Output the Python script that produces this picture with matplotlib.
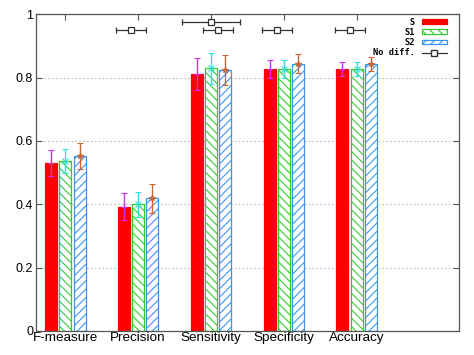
import numpy as np
import matplotlib
matplotlib.use("Agg")
import matplotlib.pyplot as plt
from matplotlib.patches import Patch
from matplotlib.lines import Line2D

# metrics on the x axis
categories = ["F-measure", "Precision", "Sensitivity", "Specificity", "Accuracy"]
series_names = ["S", "S1", "S2"]

# mean values per series
s_vals = [0.530, 0.392, 0.812, 0.827, 0.827]
s1_vals = [0.536, 0.400, 0.829, 0.827, 0.827]
s2_vals = [0.552, 0.418, 0.823, 0.844, 0.842]

# error half-widths
s_err = [0.040, 0.042, 0.050, 0.028, 0.022]
s1_err = [0.038, 0.040, 0.050, 0.028, 0.023]
s2_err = [0.040, 0.047, 0.047, 0.030, 0.022]

# "no difference" markers: group, pair of series, height
nodiff_group = [1, 2, 2, 3, 4]
nodiff_pair = [(0, 1), (0, 2), (1, 2), (0, 1), (0, 1)]
nodiff_y = [0.95, 0.975, 0.95, 0.95, 0.95]

yticks = [0, 0.2, 0.4, 0.6, 0.8, 1]
ytick_labels = ["0", "0.2", "0.4", "0.6", "0.8", "1"]

plt.rcParams["font.family"] = ["Liberation Sans", "DejaVu Sans"]
plt.rcParams["hatch.linewidth"] = 0.8

fig = plt.figure(figsize=(4.74, 3.55), dpi=100)
ax = fig.add_axes([0.076, 0.068, 0.892, 0.892])

x = np.arange(len(categories))
offsets = [-0.197, 0.0, 0.197]
width = 0.165

vals = [s_vals, s1_vals, s2_vals]
errs = [s_err, s1_err, s2_err]
faces = ["#ff0000", "white", "white"]
edges = ["#ff0000", "#33cc33", "#3c96f0"]
hatches = [None, "\\\\\\\\", "////"]
ecols = ["#cc33ee", "#33dddd", "#c8683a"]
emarks = ["+", "x", "*"]

for k in range(3):
    ax.bar(x + offsets[k], vals[k], width, color=faces[k], edgecolor=edges[k],
           hatch=hatches[k], linewidth=0.9, zorder=2)
    ax.errorbar(x + offsets[k], vals[k], yerr=errs[k], fmt=emarks[k], color=ecols[k],
                ms=4, mew=0.8, elinewidth=1.0, capsize=2.5, capthick=1.0, zorder=3)

for g, (a, b), yv in zip(nodiff_group, nodiff_pair, nodiff_y):
    xc = g + (offsets[a] + offsets[b]) / 2
    xe = abs(offsets[b] - offsets[a]) + 0.01
    ax.errorbar(xc, yv, xerr=xe, fmt="s", mfc="white", mec="#333333", color="#333333",
                ms=4.5, mew=0.9, elinewidth=0.9, capsize=2.5, capthick=0.9, zorder=3)

ax.set_xlim(-0.4, 5.4)
ax.set_ylim(0, 1)
ax.set_yticks(yticks)
ax.set_yticklabels(ytick_labels, fontsize=9)
ax.set_xticks(x)
ax.set_xticklabels(categories, fontsize=9.7)
ax.tick_params(direction="in", top=True, right=True, length=4, width=0.8,
               color="#555555", pad=2)
ax.tick_params(axis="x", pad=1)

for yv in yticks[1:-1]:
    ax.axhline(yv, color="#bbbbbb", lw=0.8, ls=(0, (1.5, 2)), zorder=1)

for sp in ax.spines.values():
    sp.set_color("#555555")
    sp.set_linewidth(0.9)

handles = [
    Patch(facecolor=faces[0], edgecolor=edges[0], linewidth=0.9),
    Patch(facecolor=faces[1], edgecolor=edges[1], hatch=hatches[1], linewidth=0.9),
    Patch(facecolor=faces[2], edgecolor=edges[2], hatch=hatches[2], linewidth=0.9),
    Line2D([], [], color="#333333", marker="s", mfc="white", mec="#333333", ms=4, lw=0.9),
]
labels = series_names + ["No diff."]
ax.legend(handles, labels, loc="upper right", bbox_to_anchor=(0.975, 0.995),
          frameon=False, markerfirst=False, handlelength=2.9, handleheight=0.5,
          labelspacing=0.15, handletextpad=0.8, borderaxespad=0.0, borderpad=0.2,
          prop={"family": "DejaVu Sans Mono", "weight": "bold", "size": 6.2})

fig.savefig("out.png", dpi=100)
